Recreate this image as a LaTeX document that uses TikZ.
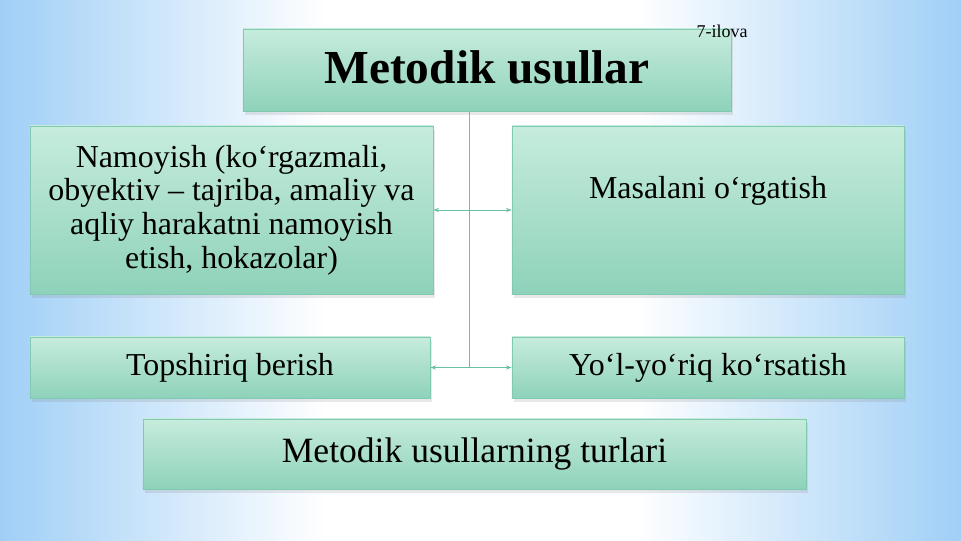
\documentclass[tikz,border=0pt]{standalone}
\usepackage{fontspec}
\setmainfont{Liberation Serif}
\usetikzlibrary{arrows.meta,shadows}

\definecolor{boxtop}{RGB}{198,236,220}
\definecolor{boxbottom}{RGB}{142,210,186}
\definecolor{boxline}{RGB}{128,202,178}
\definecolor{linkcol}{RGB}{104,192,166}
\definecolor{bgblue}{RGB}{160,207,246}
\pgfdeclarehorizontalshading{slidebg}{100bp}{color(0bp)=(bgblue); color(25bp)=(bgblue); color(42bp)=(white); color(58bp)=(white); color(75bp)=(bgblue); color(100bp)=(bgblue)}

\begin{document}
\begin{tikzpicture}
            [x=0.025cm, y=-0.025cm,
            box/.style={rectangle, draw=boxline, line width=0.5pt, top color=boxtop, bottom color=boxbottom,
                align=center, inner sep=0pt,
                drop shadow={shadow xshift=0.6mm, shadow yshift=-0.9mm, opacity=0.18}},
            body/.style={font=\fontsize{22.7}{24}\selectfont},
            link/.style={linkcol, line width=0.6pt},
            twoway/.style={{Stealth[length=4pt,width=3pt]}-{Stealth[length=4pt,width=3pt]}}]

            % slide background
            \useasboundingbox (0,0) rectangle (961,540);
            \shade[shading=slidebg] (0,0) rectangle (961,540);

            % trunk line from the title
            \coordinate (trunkend) at (469,367);

            \node[box, minimum width=12.2cm, minimum height=2.05cm, text depth=0.15cm,
                font=\fontsize{33.7}{40}\selectfont\bfseries] (title) at (487,70) {Metodik usullar};
            \node[font=\fontsize{12.8}{14}\selectfont] (ilova) at (722,31) {7-ilova};

            \node[box, body, minimum width=10.075cm, minimum height=4.2cm] (namoyish) at (231.5,210)
                {Namoyish (ko‘rgazmali,\\obyektiv – tajriba, amaliy va\\aqliy harakatni namoyish\\etish, hokazolar)};
            \node[box, body, minimum width=9.8cm, minimum height=4.2cm] (masala) at (708,210)
                {\rule{0pt}{0.25cm}\\Masalani o‘rgatish\\\mbox{}\\\mbox{}};
            \node[box, body, minimum width=10cm, minimum height=1.525cm] (topshiriq) at (230,367.5) {Topshiriq berish};
            \node[box, body, minimum width=9.8cm, minimum height=1.525cm] (yolyoriq) at (708,367.5) {Yo‘l-yo‘riq ko‘rsatish};
            \node[box, minimum width=16.575cm, minimum height=1.75cm,
                font=\fontsize{25.3}{30}\selectfont] (turlari) at (474.5,454) {Metodik usullarning turlari};

            % connectors
            \draw[link] (title.south -| trunkend) -- (trunkend);
            \draw[link, twoway] (namoyish) -- (masala);
            \draw[link, twoway] (topshiriq) -- (yolyoriq);

        \end{tikzpicture}
\end{document}
